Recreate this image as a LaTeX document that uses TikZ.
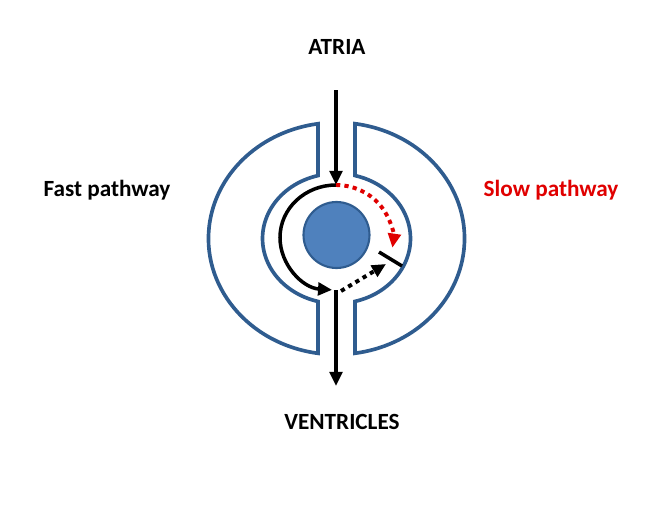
\documentclass[tikz,border=0pt]{standalone}
\usepackage{fontspec}
\setmainfont{Carlito}
\usetikzlibrary{arrows.meta}
\definecolor{bfill}{HTML}{4F81BD}
\definecolor{bline}{HTML}{2F5C8F}
\definecolor{slowred}{HTML}{E00000}
\begin{document}
\begin{tikzpicture}[x=0.025cm,y=-0.025cm,
  lbl/.style={font=\fontsize{16.5}{19}\selectfont\bfseries},
  half/.style={draw=bline,line width=2.6pt,fill=white},
  arr/.style={line width=2.5pt,-{Triangle[length=10pt,width=9pt]}},
  dotarr/.style={line width=2.8pt,dash pattern=on 3pt off 3pt,-{Triangle[length=10pt,width=9pt]}}]
\useasboundingbox (0,0) rectangle (671,513);
% halves
\path[half] (318,353.3) arc[start angle=98.3,end angle=261.7,x radius=128,y radius=116]
  -- (318,175.6) arc[start angle=255.5,end angle=104.5,x radius=74,y radius=65] -- cycle;
\path[half] (355,123.7) arc[start angle=-81.7,end angle=81.7,x radius=128,y radius=116]
  -- (355,301.4) arc[start angle=75.5,end angle=-75.5,x radius=74,y radius=65] -- cycle;
\node[circle,draw=bline,line width=1.5pt,fill=bfill,minimum size=66*0.025cm,inner sep=0] (core) at (336.5,235) {};
% labels
\node[lbl] (atria) at (337,47) {ATRIA};
\node[lbl] (vent) at (342,422) {VENTRICLES};
\node[lbl] (fast) at (107,190) {Fast pathway};
\node[lbl,text=slowred] (slow) at (551,190) {Slow pathway};
% coordinates
\coordinate (top) at (336,90);
\coordinate (his) at (336,185);
\coordinate (low) at (336,290);
\coordinate (bot) at (336,386);
\coordinate (dend) at (386,264);
\coordinate (b1) at (379,252);
\coordinate (b2) at (402,266);
% arrows
\draw[arr] (top) -- (his);
\draw[arr] (his) arc[start angle=-90,end angle=-266,x radius=56,y radius=52.5];
\draw[line width=2.5pt] (low) -- ++(0,5);
\draw[arr] (low) -- (bot);
\draw[dotarr,slowred] (his) arc[start angle=-90,end angle=8,x radius=57,y radius=55];
\draw[dotarr] (341,291) -- (dend);
\draw[line width=2.5pt] (b1) -- (b2);
\end{tikzpicture}
\end{document}
